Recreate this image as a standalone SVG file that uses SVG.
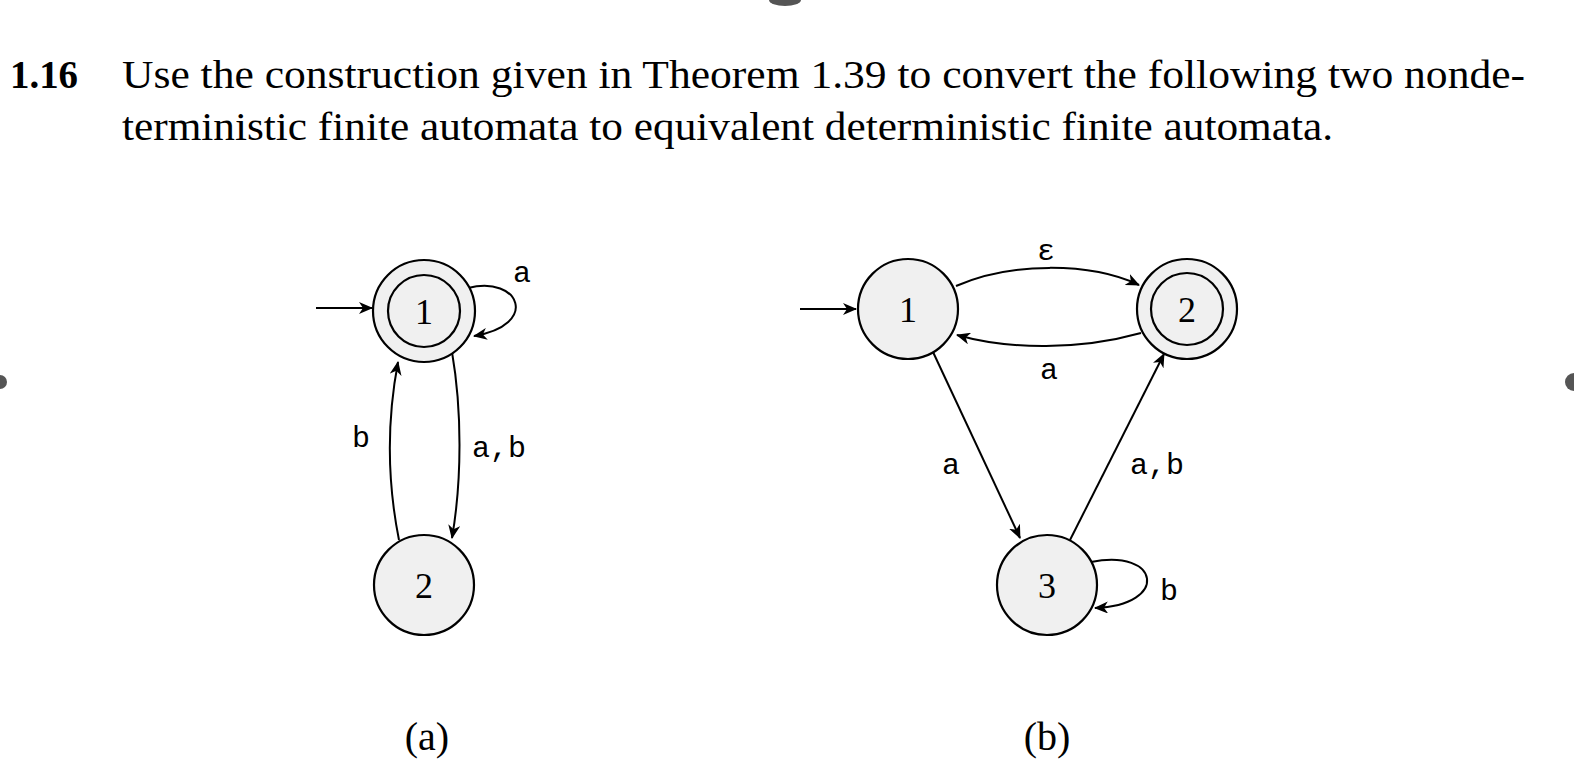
<svg xmlns="http://www.w3.org/2000/svg" width="1574" height="765" viewBox="0 0 1574 765">
<style>
.s{fill:#f0f0f0;stroke:#000;stroke-width:2.2}
.i{fill:none;stroke:#000;stroke-width:2.2}
.n{font-family:"Liberation Serif",serif;font-size:36px;text-anchor:middle}
.l{font-family:"Liberation Mono",monospace;font-size:30px}
.t{font-family:"Liberation Serif",serif;font-size:40px}
.e{fill:none;stroke:#000;stroke-width:2;marker-end:url(#ah)}
</style>
<defs><marker id="ah" viewBox="0 0 14 12" refX="13" refY="6" markerWidth="14" markerHeight="12" markerUnits="userSpaceOnUse" orient="auto"><path d="M0,0 L14,6 L0,12 L4,6 Z"/></marker></defs>
<rect width="1574" height="765" fill="#fff"/>
<ellipse cx="785" cy="0" rx="16" ry="6" fill="#555"/>
<circle cx="0" cy="382" r="7" fill="#555"/>
<circle cx="1574" cy="382" r="9" fill="#555"/>
<text class="t" x="10" y="88" font-weight="bold" textLength="68" lengthAdjust="spacingAndGlyphs">1.16</text>
<text class="t" x="122" y="88" textLength="1403" lengthAdjust="spacingAndGlyphs">Use the construction given in Theorem 1.39 to convert the following two nonde-</text>
<text class="t" x="122" y="140" textLength="1211" lengthAdjust="spacingAndGlyphs">terministic finite automata to equivalent deterministic finite automata.</text>
<g id="edges">
<path class="e" d="M316,308 L372,308"/>
<path class="e" d="M468,288 C520,275 540,325 474,336"/>
<path class="e" d="M452,352 C462,410 462,480 452,538"/>
<path class="e" d="M399,540 C387,480 387,420 398,362"/>
<path class="e" d="M800,309 L856,309"/>
<path class="e" d="M956,286 C1010,262 1090,262 1139,285"/>
<path class="e" d="M1141,333 C1080,350 1010,350 957,335"/>
<path class="e" d="M933,352 L1020,538"/>
<path class="e" d="M1070,540 L1164,354"/>
<path class="e" d="M1091,562 C1160,548 1170,605 1095,608"/>
</g>
<g id="a1"><circle class="s" cx="424" cy="311" r="51"/><circle class="i" cx="424" cy="311" r="36"/><text class="n" x="424" y="324">1</text></g>
<g id="a2"><circle class="s" cx="424" cy="585" r="50"/><text class="n" x="424" y="598">2</text></g>
<g id="b1"><circle class="s" cx="908" cy="309" r="50"/><text class="n" x="908" y="322">1</text></g>
<g id="b2"><circle class="s" cx="1187" cy="309" r="50"/><circle class="i" cx="1187" cy="309" r="36"/><text class="n" x="1187" y="322">2</text></g>
<g id="b3"><circle class="s" cx="1047" cy="585" r="50"/><text class="n" x="1047" y="598">3</text></g>
<g id="labels">
<text class="l" x="513" y="282">a</text>
<text class="l" x="352" y="447">b</text>
<text class="l" x="472" y="457">a,b</text>
<text class="l" x="1037" y="260">ε</text>
<text class="l" x="1040" y="379">a</text>
<text class="l" x="942" y="474">a</text>
<text class="l" x="1130" y="474">a,b</text>
<text class="l" x="1160" y="600">b</text>
<text class="t" x="427" y="750" text-anchor="middle">(a)</text>
<text class="t" x="1047" y="750" text-anchor="middle">(b)</text>
</g>
</svg>
